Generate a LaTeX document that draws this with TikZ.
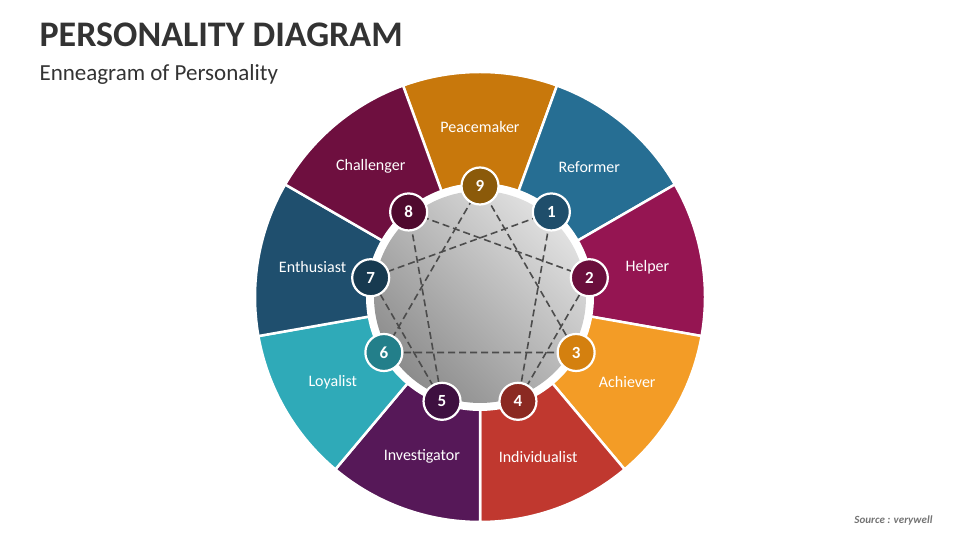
\documentclass[tikz,border=0pt]{standalone}
\usepackage{fontspec}
\setmainfont{Carlito}
\definecolor{c9}{HTML}{C8780C}\definecolor{d9}{HTML}{8B5A0A}
\definecolor{c1}{HTML}{266E93}\definecolor{d1}{HTML}{1F4E6B}
\definecolor{c2}{HTML}{951552}\definecolor{d2}{HTML}{6A0F3C}
\definecolor{c3}{HTML}{F39C26}\definecolor{d3}{HTML}{D4800F}
\definecolor{c4}{HTML}{C0382F}\definecolor{d4}{HTML}{8B2A22}
\definecolor{c5}{HTML}{561858}\definecolor{d5}{HTML}{3E1040}
\definecolor{c6}{HTML}{2FAAB8}\definecolor{d6}{HTML}{237F8A}
\definecolor{c7}{HTML}{1F4F6E}\definecolor{d7}{HTML}{173A50}
\definecolor{c8}{HTML}{6E0F3F}\definecolor{d8}{HTML}{4F0A2E}
\tikzset{
  seg/.style={draw=white,line width=2.5pt},
  num/.style={circle,draw=white,line width=2.2pt,minimum size=37pt,inner sep=0pt,text=white,font=\bfseries\fontsize{17}{17}\selectfont},
  lab/.style={text=white,font=\fontsize{16}{16}\selectfont},
  enn/.style={dashed,dash pattern=on 7pt off 4pt,line width=1.6pt,draw=black!70}
}
\begin{document}
\begin{tikzpicture}[x=1pt,y=1pt]
\useasboundingbox (0,0) rectangle (960,540);
\node[anchor=west,font=\bfseries\fontsize{36}{36}\selectfont,text=black!80] (title) at (36,505) {PERSONALITY DIAGRAM};
\node[anchor=west,font=\fontsize{23}{23}\selectfont,text=black!80] (sub) at (36,465) {Enneagram of Personality};
\node[anchor=east,font=\bfseries\itshape\fontsize{11}{11}\selectfont,text=black!55] (src) at (936,19) {Source : verywell};
\begin{scope}[shift={(480,243)}]
\foreach \i/\t in {9/Peacemaker,1/Reformer,2/Helper,3/Achiever,4/Individualist,5/Investigator,6/Loyalist,7/Enthusiast,8/Challenger}{
  \pgfmathsetmacro\th{90-40*\i}
  \pgfmathsetmacro\a{\th-20}\pgfmathsetmacro\b{\th+20}
  \filldraw[seg,fill=c\i] (\a:108) -- (\a:225) arc[start angle=\a,end angle=\b,radius=225] -- (\b:108) arc[start angle=\b,end angle=\a,radius=108] -- cycle;
  \node[lab] (l\i) at (\th:170) {\t};
}
\fill[white] (0,0) circle[radius=114];
\shade[left color=black!12,right color=black!45,shading angle=-45] (0,0) circle[radius=106];
\foreach \i in {1,...,9}{\coordinate (p\i) at ({90-40*\i}:111);}
\draw[enn] (p3) -- (p6) -- (p9) -- (p3);
\draw[enn] (p1) -- (p4) -- (p2) -- (p8) -- (p5) -- (p7) -- (p1);
\foreach \i in {1,...,9}{\node[num,fill=d\i] (n\i) at (p\i) {\i};}
\end{scope}
\end{tikzpicture}
\end{document}
